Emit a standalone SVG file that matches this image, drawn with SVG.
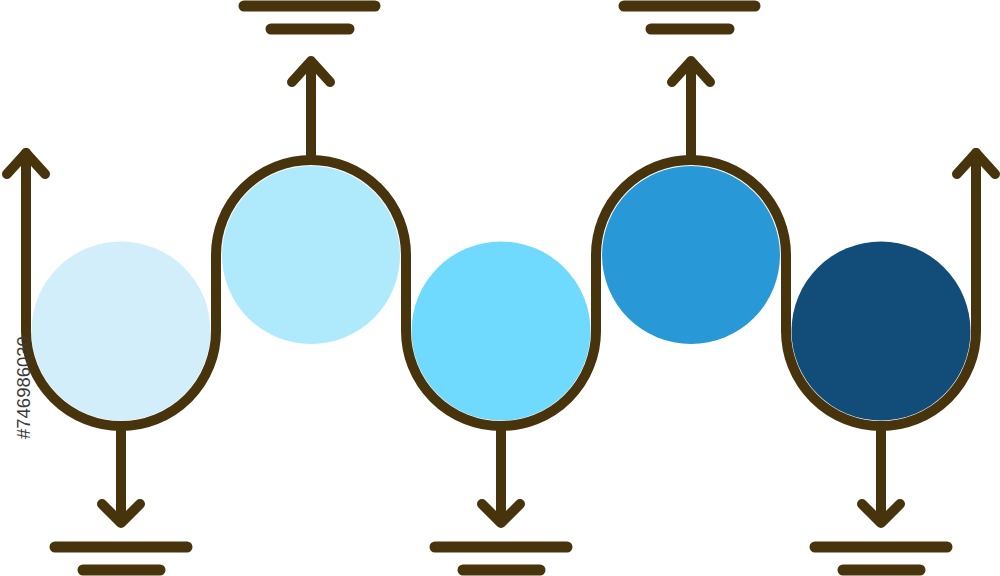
<svg xmlns="http://www.w3.org/2000/svg" width="1000" height="576" viewBox="0 0 1000 576">
  <style>
    .ln { fill: none; stroke: #47330c; stroke-width: 10; stroke-linecap: round; stroke-linejoin: round; }
    .bar { fill: none; stroke: #47330c; stroke-width: 11; stroke-linecap: round; }
    .wm { font-family: "Liberation Sans", Arial, sans-serif; font-size: 18.5px; fill: #3a3a3a; }
  </style>
  <rect width="1000" height="576" fill="#ffffff"/>
  <g id="node1"><circle cx="121" cy="331" r="89.5" fill="#d3eefb"/></g>
  <g id="node2"><circle cx="311" cy="255" r="89" fill="#aeeafc"/></g>
  <g id="node3"><circle cx="501" cy="331" r="89.5" fill="#6fdafd"/></g>
  <g id="node4"><circle cx="691" cy="255" r="89" fill="#2899d6"/></g>
  <g id="node5"><circle cx="881" cy="331" r="89.5" fill="#114d78"/></g>
  <g id="connectors">
    <path class="ln" d="M26,153 L26,331 A95,95 0 0 0 216,331 L216,255 A95,95 0 0 1 406,255 L406,331 A95,95 0 0 0 596,331 L596,255 A95,95 0 0 1 786,255 L786,331 A95,95 0 0 0 976,331 L976,153"/>
    <path class="ln" d="M7,174 L26,153 L45,174"/>
    <path class="ln" d="M957,174 L976,153 L995,174"/>
    <path class="ln" d="M311,160 L311,61 M292,82 L311,61 L330,82"/>
    <path class="ln" d="M691,160 L691,61 M672,82 L691,61 L710,82"/>
    <path class="ln" d="M121,426 L121,523 M102,504 L121,523 L140,504"/>
    <path class="ln" d="M501,426 L501,523 M482,504 L501,523 L520,504"/>
    <path class="ln" d="M881,426 L881,523 M862,504 L881,523 L900,504"/>
  </g>
  <g id="bars">
    <path class="bar" d="M244,6 L375,6 M271,29 L349,29"/>
    <path class="bar" d="M624,6 L755,6 M651,29 L729,29"/>
    <path class="bar" d="M55,547 L187,547 M83,570 L160,570"/>
    <path class="bar" d="M435,547 L567,547 M463,570 L540,570"/>
    <path class="bar" d="M815,547 L947,547 M843,570 L920,570"/>
  </g>
  <text class="wm" transform="translate(30,439) rotate(-90)">#746986030</text>
</svg>
